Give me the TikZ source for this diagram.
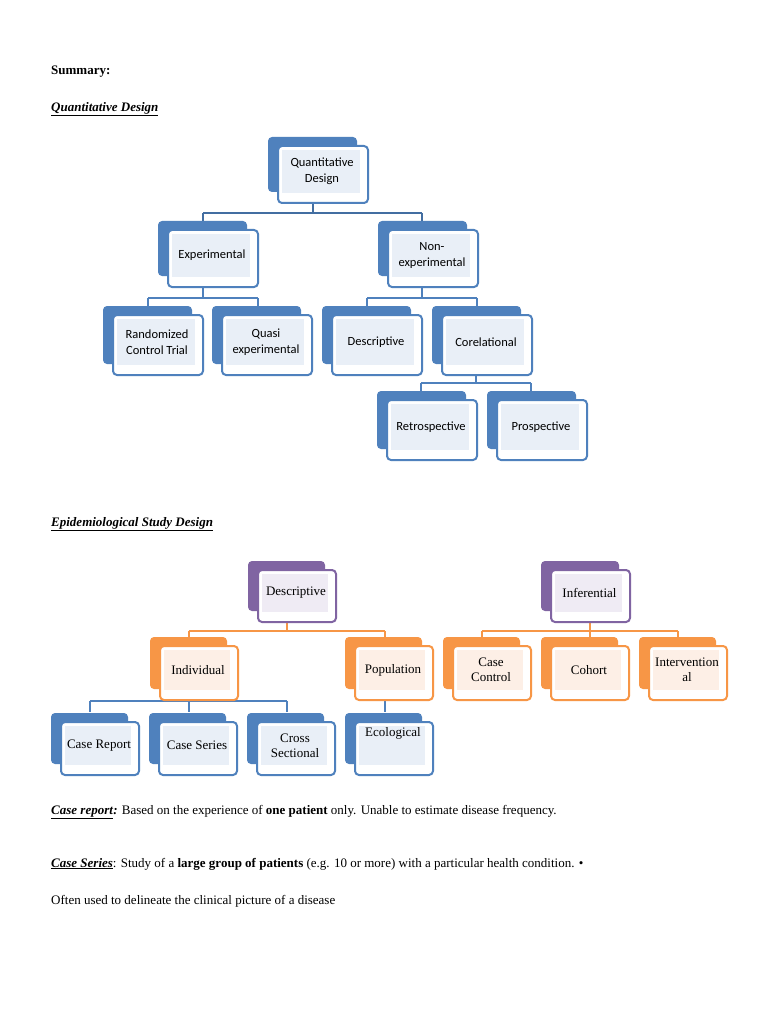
\documentclass[tikz,border=0pt]{standalone}
\usepackage{fontspec}
\setmainfont{Liberation Serif}
\newfontfamily\calfont{Carlito}
\definecolor{bb}{HTML}{4F81BD}
\definecolor{bf}{HTML}{E9EFF7}
\definecolor{pp}{HTML}{8064A2}
\definecolor{pf}{HTML}{EFEBF4}
\definecolor{oo}{HTML}{F79646}
\definecolor{of}{HTML}{FDEFE6}
\tikzset{conn/.style={line width=2.2pt},
 txt/.style={anchor=west,font=\fontsize{13}{15}\selectfont,inner sep=0pt}}
\newcommand\tb[9]{%
 \fill[#6,rounded corners=4pt] (#2-10,#3-9) rectangle (#4-11,#5-11);
 \draw[#7,fill=white,line width=2pt,rounded corners=4pt] (#2,#3) rectangle (#4,#5);
 \fill[#8] (#2+4,#3+4) rectangle (#4-8,#5-10);
 \node[align=center,font=#9,inner sep=0pt] (#1) at ({(#2+#4)/2-1},{(#3+#5)/2-3}) {\tbtext};}
\begin{document}
\begin{tikzpicture}[x=1pt,y=-1pt]
\useasboundingbox (0,0) rectangle (768,1024);
\fill[white] (0,0) rectangle (768,1024);
\node[txt] at (51,72) {\textbf{Summary:}};
\node[txt] at (51,109) {\underline{\textbf{\textit{Quantitative Design}}}};
\node[txt] at (51,524) {\underline{\textbf{\textit{Epidemiological Study Design}}}};
\draw[conn,bb!85!black] (313,203) -- (313,213) (203,213) -- (422,213) (203,213)--(203,222) (422,213)--(422,222);
\draw[conn,bb,line width=1.5pt] (203,287)--(203,298) (148,298)--(258,298) (148,298)--(148,307) (258,298)--(258,307);
\draw[conn,bb,line width=1.5pt] (422,287)--(422,298) (367,298)--(477,298) (367,298)--(367,307) (477,298)--(477,307);
\draw[conn,bb,line width=1.5pt] (476,375)--(476,383) (421,383)--(531,383) (421,383)--(421,392) (531,383)--(531,392);
\def\qf{\calfont\fontsize{12.5}{16}\selectfont}
\def\tbtext{Quantitative\\Design}\tb{qd}{278}{146}{368}{203}{bb}{bb}{bf}{\qf}
\def\tbtext{Experimental}\tb{ex}{168}{230}{258}{287}{bb}{bb}{bf}{\qf}
\def\tbtext{Non-\\experimental}\tb{ne}{388}{230}{478}{287}{bb}{bb}{bf}{\qf}
\def\tbtext{Randomized\\Control Trial}\tb{rc}{113}{315}{203}{375}{bb}{bb}{bf}{\qf}
\def\tbtext{Quasi\\experimental}\tb{qe}{222}{315}{312}{375}{bb}{bb}{bf}{\qf}
\def\tbtext{Descriptive}\tb{de}{332}{315}{422}{375}{bb}{bb}{bf}{\qf}
\def\tbtext{Corelational}\tb{co}{442}{315}{532}{375}{bb}{bb}{bf}{\qf}
\def\tbtext{Retrospective}\tb{re}{387}{400}{477}{460}{bb}{bb}{bf}{\qf}
\def\tbtext{Prospective}\tb{pr}{497}{400}{587}{460}{bb}{bb}{bf}{\qf}
\draw[oo,line width=1.5pt] (287,622)--(287,631) (189,631)--(385,631) (189,631)--(189,640) (385,631)--(385,640);
\draw[oo,line width=1.5pt] (590,622)--(590,631) (482,631)--(678,631) (482,631)--(482,640) (590,631)--(590,640) (678,631)--(678,640);
\draw[bb,line width=1.5pt] (189,700)--(189,712) (90,701)--(287,701) (90,701)--(90,712) (287,701)--(287,712);
\draw[bb,line width=1.2pt] (385,700)--(385,712);
\def\ef{\fontsize{13}{15}\selectfont}
\def\tbtext{Descriptive}\tb{ed}{258}{570}{336}{622}{pp}{pp}{pf}{\ef}
\def\tbtext{Inferential}\tb{ei}{551}{570}{630}{622}{pp}{pp}{pf}{\ef}
\def\tbtext{Individual}\tb{ind}{160}{646}{238}{700}{oo}{oo}{of}{\ef}
\def\tbtext{Population}\tb{pop}{355}{646}{433}{700}{oo}{oo}{of}{\ef}
\def\tbtext{Case\\Control}\tb{cc}{453}{646}{531}{700}{oo}{oo}{of}{\ef}
\def\tbtext{Cohort}\tb{coh}{551}{646}{629}{700}{oo}{oo}{of}{\ef}
\def\tbtext{Intervention\\al}\tb{int}{649}{646}{727}{700}{oo}{oo}{of}{\ef}
\def\tbtext{Case Report}\tb{cr}{61}{722}{139}{775}{bb}{bb}{bf}{\ef}
\def\tbtext{Case Series}\tb{cs}{159}{722}{237}{775}{bb}{bb}{bf}{\ef}
\def\tbtext{Cross\\Sectional}\tb{xs}{257}{722}{335}{775}{bb}{bb}{bf}{\ef}
\fill[bb,rounded corners=4pt] (345,713) rectangle (422,764);
\draw[bb,fill=white,line width=2pt,rounded corners=4pt] (355,722) rectangle (433,775);
\fill[bf] (359,726) rectangle (425,765);
\node[font=\ef,inner sep=0pt] (eco) at (393,733) {Ecological};
\node[txt] at (51,812) {\underline{\textbf{\textit{Case report}}}\textbf{\textit{:}} Based on the experience of \textbf{one patient} only. Unable to estimate disease frequency.};
\node[txt] at (51,864) {\underline{\textbf{\textit{Case Series}}}: Study of a \textbf{large group of patients} (e.g. 10 or more) with a particular health condition. •};
\node[txt] at (51,901) {Often used to delineate the clinical picture of a disease};
\end{tikzpicture}
\end{document}
